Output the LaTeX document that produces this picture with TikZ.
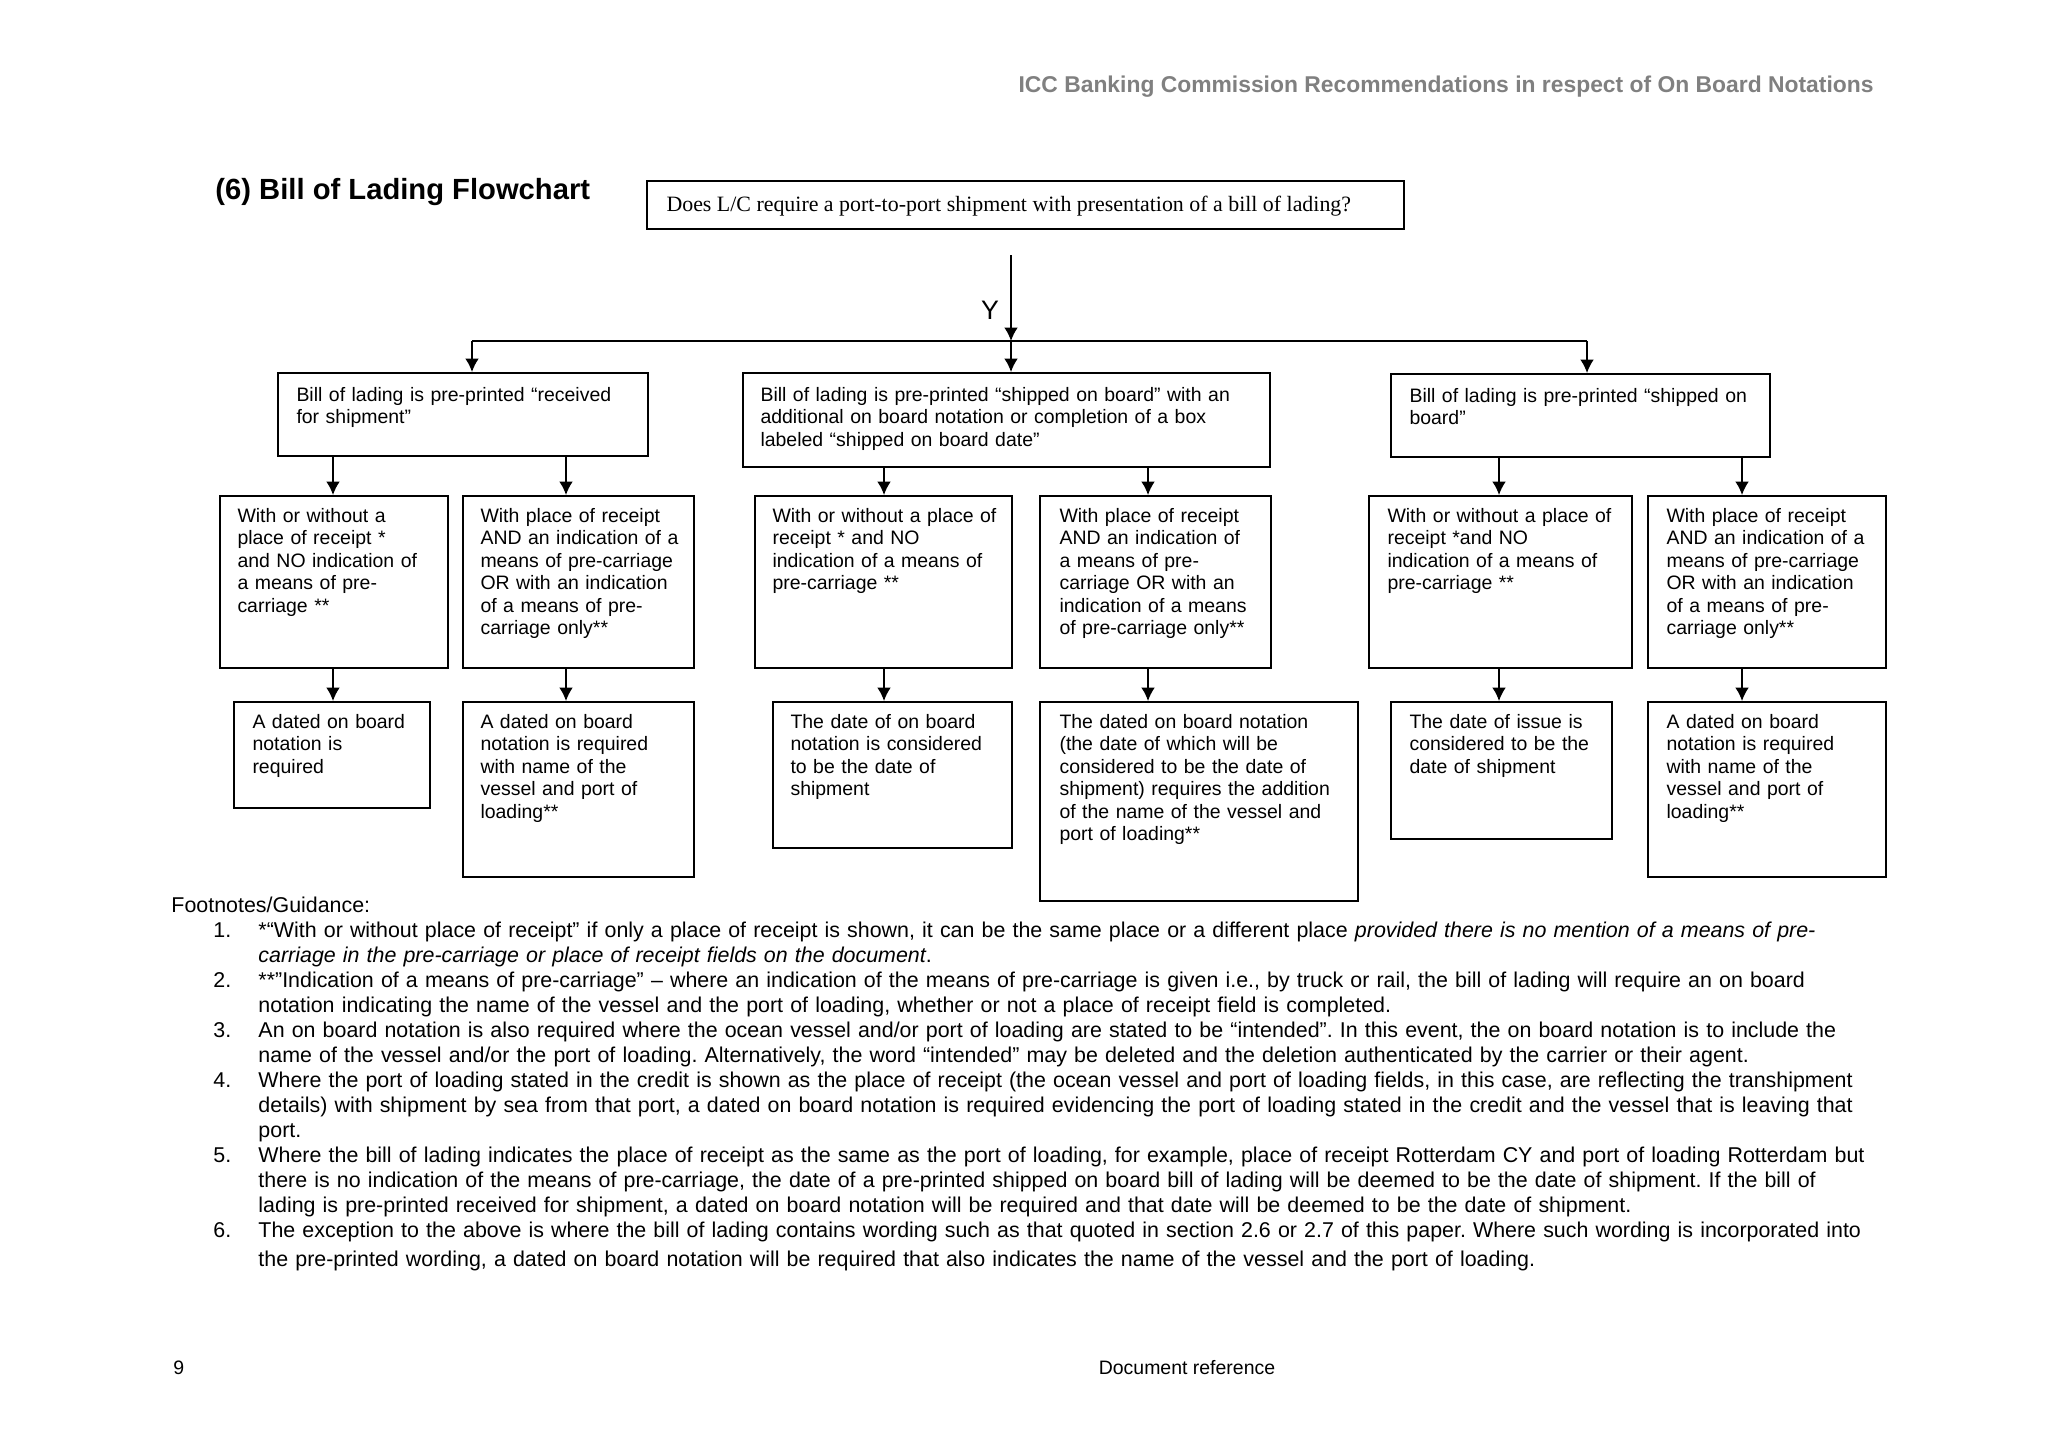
\documentclass[tikz,border=0pt]{standalone}
\usepackage{fontspec}
\setmainfont{Liberation Sans}
\newfontfamily\qserif{Liberation Serif}
\usetikzlibrary{arrows.meta,fit,calc}
\definecolor{hdrgray}{RGB}{128,128,128}
\frenchspacing
\tikzset{
  boxs/.style={draw=black, line width=0.8pt, inner sep=0pt},
  btxt/.style={font=\fontsize{8}{9.25}\selectfont, align=left, inner sep=0pt, anchor=base west, text width=230pt},
  ftxt/.style={font=\fontsize{8.8}{10.28}\selectfont, align=left, inner sep=0pt, anchor=base west, text width=720pt},
  fnum/.style={font=\fontsize{8.8}{10.28}\selectfont, inner sep=0pt, anchor=base west},
  arr/.style={line width=0.7pt, -{Latex[length=5.5pt,width=5.6pt]}},
  plainline/.style={line width=0.7pt}
}
\begin{document}
\begin{tikzpicture}[x=0.41113pt,y=-0.41113pt]
\useasboundingbox (0,0) rectangle (2048,1448);
\fill[white] (0,0) rectangle (2048,1448);

% header and title
\node[anchor=base east, inner sep=0pt, font=\bfseries\fontsize{9.4}{11}\selectfont, text=hdrgray] (hdr) at (1874,92) {ICC Banking Commission Recommendations in respect of On Board Notations};
\node[anchor=base west, inner sep=0pt, font=\bfseries\fontsize{12}{14}\selectfont] (title) at (215,199) {(6) Bill of Lading Flowchart};

% question box
\node[boxs, fit={(647,181) (1404,229)}] (q) {};
\node[anchor=base west, inner sep=0pt, font=\qserif\fontsize{9}{11}\selectfont] (qt) at ($(q.north west)+(20,31)$) {Does L/C require a port-to-port shipment with presentation of a bill of lading?};

% level 1 boxes
\node[boxs, fit={(278,373) (648,456)}] (b1) {};
\node[boxs, fit={(743,373) (1270,467)}] (b2) {};
\node[boxs, fit={(1391,374) (1770,457)}] (b3) {};
\node[btxt] (b1t) at ($(b1.north west)+(19,29)$) {Bill of lading is pre-printed “received\\for shipment”};
\node[btxt] (b2t) at ($(b2.north west)+(18,29)$) {Bill of lading is pre-printed “shipped on board” with an\\additional on board notation or completion of a box\\labeled “shipped on board date”};
\node[btxt] (b3t) at ($(b3.north west)+(19,29)$) {Bill of lading is pre-printed “shipped on\\board”};

% level 2 boxes
\node[boxs, fit={(220,496) (448,668)}] (c1) {};
\node[boxs, fit={(463,496) (694,668)}] (c2) {};
\node[boxs, fit={(755,496) (1012,668)}] (c3) {};
\node[boxs, fit={(1040,496) (1271,668)}] (c4) {};
\node[boxs, fit={(1369,496) (1632,668)}] (c5) {};
\node[boxs, fit={(1648,496) (1886,668)}] (c6) {};
\node[btxt] (c1t) at ($(c1.north west)+(18,27)$) {With or without a\\place of receipt *\\and NO indication of\\a means of pre-\\carriage **};
\node[btxt] (c2t) at ($(c2.north west)+(18,27)$) {With place of receipt\\AND an indication of a\\means of pre-carriage\\OR with an indication\\of a means of pre-\\carriage only**};
\node[btxt] (c3t) at ($(c3.north west)+(18,27)$) {With or without a place of\\receipt * and NO\\indication of a means of\\pre-carriage **};
\node[btxt] (c4t) at ($(c4.north west)+(20,27)$) {With place of receipt\\AND an indication of\\a means of pre-\\carriage OR with an\\indication of a means\\of pre-carriage only**};
\node[btxt] (c5t) at ($(c5.north west)+(19,27)$) {With or without a place of\\receipt *and NO\\indication of a means of\\pre-carriage **};
\node[btxt] (c6t) at ($(c6.north west)+(19,27)$) {With place of receipt\\AND an indication of a\\means of pre-carriage\\OR with an indication\\of a means of pre-\\carriage only**};

% level 3 boxes
\node[boxs, fit={(234,702) (430,808)}] (d1) {};
\node[boxs, fit={(463,702) (694,877)}] (d2) {};
\node[boxs, fit={(773,702) (1012,848)}] (d3) {};
\node[boxs, fit={(1040,702) (1358,901)}] (d4) {};
\node[boxs, fit={(1391,702) (1612,839)}] (d5) {};
\node[boxs, fit={(1648,702) (1886,877)}] (d6) {};
\node[btxt] (d1t) at ($(d1.north west)+(19,27)$) {A dated on board\\notation is\\required};
\node[btxt] (d2t) at ($(d2.north west)+(18,27)$) {A dated on board\\notation is required\\with name of the\\vessel and port of\\loading**};
\node[btxt] (d3t) at ($(d3.north west)+(18,27)$) {The date of on board\\notation is considered\\to be the date of\\shipment};
\node[btxt] (d4t) at ($(d4.north west)+(20,27)$) {The dated on board notation\\(the date of which will be\\considered to be the date of\\shipment) requires the addition\\of the name of the vessel and\\port of loading**};
\node[btxt] (d5t) at ($(d5.north west)+(19,27)$) {The date of issue is\\considered to be the\\date of shipment};
\node[btxt] (d6t) at ($(d6.north west)+(19,27)$) {A dated on board\\notation is required\\with name of the\\vessel and port of\\loading**};

% connectors: top level
\coordinate (ys) at (1011,255);
\coordinate (split) at (1011,341);
\coordinate (hl) at (472,341);
\coordinate (hr) at (1587,341);
\draw[arr] (ys) -- (split);
\node[anchor=base, inner sep=0pt, font=\fontsize{11}{13}\selectfont] (ylab) at (990,319) {Y};
\draw[plainline] (hl) -- (hr);
\draw[arr] (hl) -- (b1.north -| hl);
\draw[arr] (split) -- (b2.north -| split);
\draw[arr] (hr) -- (b3.north -| hr);

% connectors: level 1 -> 2 -> 3
\coordinate (x1) at (333,0);
\coordinate (x2) at (566,0);
\coordinate (x3) at (884,0);
\coordinate (x4) at (1148,0);
\coordinate (x5) at (1499,0);
\coordinate (x6) at (1742,0);
\draw[arr] (b1.south -| x1) -- (c1.north -| x1);
\draw[arr] (b1.south -| x2) -- (c2.north -| x2);
\draw[arr] (b2.south -| x3) -- (c3.north -| x3);
\draw[arr] (b2.south -| x4) -- (c4.north -| x4);
\draw[arr] (b3.south -| x5) -- (c5.north -| x5);
\draw[arr] (b3.south -| x6) -- (c6.north -| x6);
\draw[arr] (c1.south -| x1) -- (d1.north -| x1);
\draw[arr] (c2.south -| x2) -- (d2.north -| x2);
\draw[arr] (c3.south -| x3) -- (d3.north -| x3);
\draw[arr] (c4.south -| x4) -- (d4.north -| x4);
\draw[arr] (c5.south -| x5) -- (d5.north -| x5);
\draw[arr] (c6.south -| x6) -- (d6.north -| x6);

% footnotes
\node[fnum] (fhead) at (171,912) {Footnotes/Guidance:};
\node[fnum] (n1) at (213,937) {1.};
\node[ftxt] (f1) at (258,937) {*“With or without place of receipt” if only a place of receipt is shown, it can be the same place or a different place \textit{provided there is no mention of a means of pre-}\\\textit{carriage in the pre-carriage or place of receipt fields on the document}.};
\node[fnum] (n2) at (213,987) {2.};
\node[ftxt] (f2) at (258,987) {**”Indication of a means of pre-carriage” – where an indication of the means of pre-carriage is given i.e., by truck or rail, the bill of lading will require an on board\\notation indicating the name of the vessel and the port of loading, whether or not a place of receipt field is completed.};
\node[fnum] (n3) at (213,1037) {3.};
\node[ftxt] (f3) at (258,1037) {An on board notation is also required where the ocean vessel and/or port of loading are stated to be “intended”. In this event, the on board notation is to include the\\name of the vessel and/or the port of loading. Alternatively, the word “intended” may be deleted and the deletion authenticated by the carrier or their agent.};
\node[fnum] (n4) at (213,1087) {4.};
\node[ftxt] (f4) at (258,1087) {Where the port of loading stated in the credit is shown as the place of receipt (the ocean vessel and port of loading fields, in this case, are reflecting the transhipment\\details) with shipment by sea from that port, a dated on board notation is required evidencing the port of loading stated in the credit and the vessel that is leaving that\\port.};
\node[fnum] (n5) at (213,1162) {5.};
\node[ftxt] (f5) at (258,1162) {Where the bill of lading indicates the place of receipt as the same as the port of loading, for example, place of receipt Rotterdam CY and port of loading Rotterdam but\\there is no indication of the means of pre-carriage, the date of a pre-printed shipped on board bill of lading will be deemed to be the date of shipment. If the bill of\\lading is pre-printed received for shipment, a dated on board notation will be required and that date will be deemed to be the date of shipment.};
\node[fnum] (n6) at (213,1237) {6.};
\node[ftxt] (f6) at (258,1237) {The exception to the above is where the bill of lading contains wording such as that quoted in section 2.6 or 2.7 of this paper. Where such wording is incorporated into\\[2pt]the pre-printed wording, a dated on board notation will be required that also indicates the name of the vessel and the port of loading.};

% footer
\node[anchor=base west, inner sep=0pt, font=\fontsize{8}{10}\selectfont] (pgno) at (173,1374) {9};
\node[anchor=base, inner sep=0pt, font=\fontsize{8}{10}\selectfont] (docref) at (1187,1374) {Document reference};
\end{tikzpicture}
\end{document}
